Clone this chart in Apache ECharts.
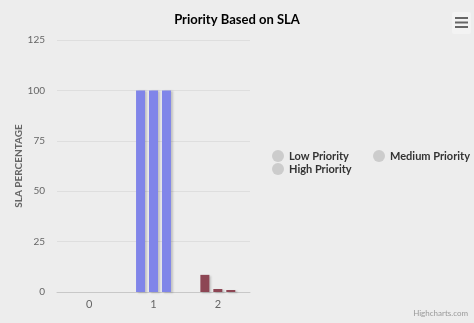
<!DOCTYPE html>
<html>
<head>
<meta charset="utf-8">
<script src="https://cdn.jsdelivr.net/npm/echarts@6/dist/echarts.min.js"></script>
<style>
  html, body { margin: 0; padding: 0; background: #ededed; }
  #chart { width: 474px; height: 323px; }
</style>
</head>
<body>
<div id="chart"></div>
<script>
// Categories on the x axis
var categories = ['0', '1', '2'];
// SLA percentage per priority level
var lowPriority = [0, 100, 8.5];
var mediumPriority = [0, 100, 1.5];
var highPriority = [0, 100, 1];
// Y axis ticks
var yTicks = [0, 25, 50, 75, 100, 125];
// Point colours (one colour per category)
var pointColors = ['#f45b5b', '#8085e9', '#8d4654'];

var FONT = 'Lato, "Open Sans", sans-serif';

function barSeries(name, values) {
  return {
    name: name,
    type: 'bar',
    data: values,
    barWidth: 9,
    barGap: '44%',
    itemStyle: {
      color: function (p) { return pointColors[p.dataIndex]; },
      shadowColor: 'rgba(0,0,0,0.18)',
      shadowBlur: 2,
      shadowOffsetX: 2,
      shadowOffsetY: 1
    },
    emphasis: { disabled: true }
  };
}

var legendText = { fontFamily: FONT, fontWeight: 'bold', fontSize: 11, color: '#333' };

var chart = echarts.init(document.getElementById('chart'), null, { renderer: 'canvas' });
chart.setOption({
  backgroundColor: '#ededed',
  animation: false,
  title: {
    text: 'Priority Based on SLA',
    left: 'center',
    top: 8,
    textStyle: { fontFamily: FONT, fontWeight: 'bold', fontSize: 13, color: '#000' }
  },
  legend: [
    {
      orient: 'vertical',
      left: 267,
      top: 145,
      itemWidth: 12,
      itemHeight: 12,
      itemGap: 1,
      icon: 'circle',
      selectedMode: false,
      textStyle: legendText,
      data: [
        { name: 'Low Priority', itemStyle: { color: '#cccccc' } },
        { name: 'High Priority', itemStyle: { color: '#cccccc' } }
      ]
    },
    {
      orient: 'vertical',
      left: 368,
      top: 145,
      itemWidth: 12,
      itemHeight: 12,
      icon: 'circle',
      selectedMode: false,
      textStyle: legendText,
      data: [
        { name: 'Medium Priority', itemStyle: { color: '#cccccc' } }
      ]
    }
  ],
  grid: { left: 57, right: 224, top: 40, bottom: 31 },
  xAxis: {
    type: 'category',
    data: categories,
    axisLine: { lineStyle: { color: '#c8c8c8' } },
    axisTick: { alignWithLabel: true, length: 5, lineStyle: { color: '#c8c8c8' } },
    axisLabel: { fontFamily: FONT, fontSize: 11, color: '#666', margin: 7 }
  },
  yAxis: {
    type: 'value',
    min: yTicks[0],
    max: yTicks[yTicks.length - 1],
    interval: 25,
    name: 'SLA PERCENTAGE',
    nameLocation: 'middle',
    nameGap: 30,
    nameTextStyle: { fontFamily: FONT, fontSize: 10, color: '#666', fontWeight: 'bold' },
    axisLine: { show: false },
    axisTick: { show: false },
    axisLabel: { fontFamily: FONT, fontSize: 10, color: '#666', margin: 12 },
    splitLine: { lineStyle: { color: '#dedede' } }
  },
  series: [
    barSeries('Low Priority', lowPriority),
    barSeries('Medium Priority', mediumPriority),
    barSeries('High Priority', highPriority)
  ],
  graphic: [
    // export menu button
    { type: 'rect', shape: { x: 452, y: 12, width: 19, height: 22, r: 2 }, style: { fill: 'rgba(255,255,255,0.35)' } },
    { type: 'rect', shape: { x: 455, y: 17, width: 13, height: 2 }, style: { fill: '#666' } },
    { type: 'rect', shape: { x: 455, y: 21.5, width: 13, height: 2 }, style: { fill: '#666' } },
    { type: 'rect', shape: { x: 455, y: 26, width: 13, height: 2 }, style: { fill: '#666' } },
    // credits
    { type: 'text', right: 6, top: 309, style: { text: 'Highcharts.com', font: '8px ' + FONT, fill: '#999' } }
  ]
});
</script>
</body>
</html>
